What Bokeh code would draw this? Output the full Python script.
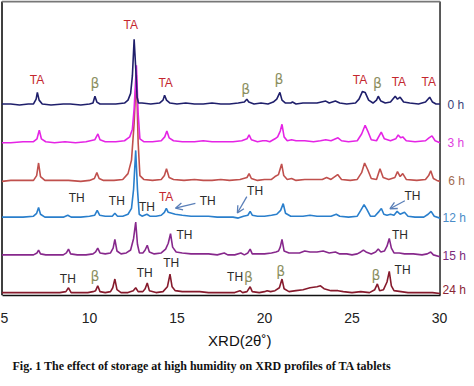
from bokeh.plotting import figure
from bokeh.models import Range1d, Arrow, OpenHead, FixedTicker, Title
from bokeh.embed import file_html
from bokeh.resources import INLINE
from bokeh.core.properties import value
import numpy as np

# ---------------- data (2theta, intensity above each trace's baseline) ----------------
x_0h = [5.0, 5.5, 6.0, 6.5, 6.8, 6.95, 7.02, 7.12, 7.3, 7.8, 8.5, 8.9, 9.5, 10.0, 10.2, 10.31, 10.42, 10.6, 11.0, 11.5,
        12.0, 12.2, 12.35, 12.45, 12.55, 12.65, 12.72, 12.8, 13.0, 13.5, 14.0, 14.2, 14.29, 14.4, 14.6, 15.0, 15.5, 16.0,
        16.5, 17.0, 17.5, 18.0, 18.5, 18.85, 18.99, 19.1, 19.4, 19.8, 20.2, 20.5, 20.7, 20.88, 21.0, 21.2, 21.5, 21.6,
        21.8, 22.2, 22.6, 23.0, 23.5, 23.7, 24.05, 24.3, 24.7, 25.2, 25.4, 25.6, 25.75, 25.95, 26.2, 26.4, 26.5, 26.65,
        26.9, 27.2, 27.47, 27.6, 27.75, 27.95, 28.3, 28.8, 29.2, 29.44, 29.6, 29.8, 30.03]
i_0h = [1, 1, 0, 1, 1, 6, 13, 5, 1, 0, 1, 1, 0, 1, 2, 9, 3, 1, 1, 1,
        2, 5, 12, 30, 68, 35, 8, 2, 2, 1, 2, 5, 10, 5, 2, 1, 2, 1,
        1, 2, 1, 1, 2, 3, 6, 3, 1, 2, 1, 3, 6, 13, 5, 2, 2, 3,
        1, 2, 2, 2, 4, 2, 4, 2, 1, 2, 6, 14, 13, 5, 2, 5, 9, 4,
        2, 3, 9, 6, 8, 3, 2, 1, 3, 8, 3, 1, 1]

x_3h = [5.0, 5.5, 6.2, 6.8, 7.0, 7.13, 7.25, 7.5, 8.0, 8.6, 9.2, 9.8, 10.3, 10.48, 10.6, 10.9, 11.5, 12.0, 12.3, 12.45,
        12.55, 12.68, 12.78, 12.88, 13.1, 13.6, 14.1, 14.3, 14.42, 14.55, 14.8, 15.3, 16.0, 16.5, 17.0, 17.6, 18.2, 18.7,
        19.0, 19.12, 19.25, 19.6, 19.9, 20.1, 20.3, 20.6, 20.75, 20.9, 21.0, 21.12, 21.3, 21.55, 21.8, 22.3, 22.8, 23.2,
        23.5, 23.8, 24.2, 24.4, 24.8, 25.3, 25.55, 25.75, 25.9, 26.1, 26.4, 26.67, 26.85, 27.2, 27.5, 27.64, 27.78, 27.9,
        28.1, 28.6, 29.2, 29.4, 29.57, 29.75, 30.03]
i_3h = [0, 0, 1, 1, 4, 13, 4, 1, 0, 1, 0, 1, 3, 9, 3, 1, 1, 2, 6, 14,
        35, 80, 30, 4, 1, 1, 2, 6, 12, 5, 2, 1, 1, 2, 1, 1, 1, 2,
        4, 8, 3, 1, 2, 2, 1, 4, 6, 12, 19, 6, 2, 3, 2, 2, 1, 2,
        3, 2, 5, 2, 1, 2, 9, 18, 12, 3, 2, 11, 4, 2, 4, 8, 5, 6,
        2, 1, 2, 5, 7, 2, 0]

x_6h = [5.0, 5.5, 6.2, 6.8, 6.98, 7.09, 7.2, 7.45, 8.0, 8.8, 9.5, 10.0, 10.28, 10.42, 10.55, 10.8, 11.4, 11.9, 12.2, 12.4,
        12.55, 12.68, 12.78, 12.88, 13.1, 13.6, 14.1, 14.28, 14.4, 14.55, 14.8, 15.4, 16.0, 16.5, 17.0, 17.5, 18.0, 18.6,
        19.0, 19.12, 19.25, 19.6, 20.0, 20.4, 20.6, 20.8, 20.98, 21.1, 21.3, 21.55, 21.8, 22.3, 22.9, 23.3, 23.55, 23.8,
        24.18, 24.4, 24.9, 25.3, 25.55, 25.72, 25.9, 26.1, 26.4, 26.6, 26.78, 27.1, 27.45, 27.6, 27.75, 27.9, 28.1, 28.7,
        29.2, 29.38, 29.5, 29.65, 29.85, 30.03]
i_6h = [0, 1, 1, 1, 6, 19, 5, 1, 1, 1, 0, 1, 3, 9, 3, 1, 1, 2, 8, 22,
        60, 110, 40, 6, 2, 1, 2, 6, 13, 4, 2, 1, 2, 1, 1, 2, 1, 2,
        4, 8, 3, 1, 2, 2, 5, 7, 18, 6, 2, 3, 1, 2, 2, 2, 4, 2,
        7, 2, 1, 2, 9, 19, 12, 3, 2, 13, 4, 2, 4, 10, 5, 8, 2, 1,
        2, 6, 11, 3, 1, 0]

x_12h = [5.0, 5.5, 6.2, 6.8, 6.98, 7.09, 7.2, 7.45, 8.0, 8.5, 8.76, 8.95, 9.5, 10.0, 10.3, 10.44, 10.58, 10.9, 11.3, 11.45,
         11.6, 11.9, 12.2, 12.4, 12.52, 12.64, 12.74, 12.84, 13.0, 13.28, 13.45, 13.8, 14.1, 14.28, 14.39, 14.5, 14.7, 14.9,
         15.3, 15.8, 16.3, 16.8, 17.3, 17.8, 18.2, 18.5, 18.8, 19.05, 19.18, 19.3, 19.6, 20.0, 20.4, 20.7, 20.92, 21.07,
         21.2, 21.5, 21.8, 22.2, 22.6, 23.0, 23.5, 23.8, 24.1, 24.3, 24.8, 25.3, 25.5, 25.69, 25.85, 26.05, 26.3, 26.55,
         26.68, 26.82, 27.0, 27.2, 27.4, 27.58, 27.75, 28.0, 28.2, 28.6, 29.1, 29.35, 29.52, 29.7, 30.03]
i_12h = [1, 1, 1, 2, 5, 11, 4, 1, 1, 1, 3, 1, 1, 2, 3, 8, 3, 2, 2, 5,
         2, 2, 4, 10, 30, 70, 30, 4, 2, 4, 2, 2, 3, 6, 10, 6, 5, 4,
         3, 2, 2, 2, 1, 1, 1, 0, 2, 3, 7, 3, 2, 2, 3, 4, 8, 15,
         5, 2, 2, 2, 3, 2, 2, 2, 4, 2, 1, 2, 8, 14, 9, 2, 2, 7,
         10, 4, 3, 4, 3, 7, 4, 6, 2, 1, 1, 4, 7, 2, 0]

x_15h = [5.0, 5.5, 6.2, 6.8, 7.0, 7.09, 7.2, 7.5, 8.0, 8.5, 8.68, 8.8, 8.92, 9.3, 9.8, 10.2, 10.35, 10.47, 10.6, 10.9,
         11.2, 11.35, 11.45, 11.57, 11.8, 12.1, 12.35, 12.52, 12.64, 12.74, 12.85, 13.05, 13.18, 13.3, 13.42, 13.7, 14.1,
         14.35, 14.5, 14.63, 14.75, 14.95, 15.3, 15.8, 16.3, 16.8, 17.3, 17.7, 17.9, 18.3, 18.65, 18.85, 19.05, 19.18,
         19.3, 19.6, 20.0, 20.4, 20.65, 20.8, 20.9, 21.0, 21.12, 21.4, 21.7, 22.0, 22.3, 22.6, 23.0, 23.35, 23.7, 24.05,
         24.3, 24.7, 25.0, 25.3, 25.5, 25.65, 25.8, 26.1, 26.35, 26.5, 26.65, 26.85, 27.0, 27.13, 27.25, 27.4, 27.7, 28.0,
         28.5, 29.0, 29.3, 29.5, 29.65, 30.03]
i_15h = [1, 1, 1, 1, 3, 6, 2, 1, 1, 1, 3, 7, 2, 1, 1, 2, 4, 8, 3, 2,
         3, 8, 17, 5, 2, 3, 6, 18, 35, 12, 3, 3, 6, 11, 4, 2, 3,
         7, 13, 23, 9, 4, 3, 2, 2, 2, 1, 3, 1, 1, 3, 1, 3, 7,
         2, 2, 2, 3, 4, 5, 9, 17, 5, 3, 3, 3, 5, 4, 4, 5, 3, 4,
         2, 2, 1, 2, 4, 6, 4, 2, 4, 7, 4, 5, 10, 18, 8, 3, 3, 2,
         2, 1, 2, 4, 1, -1]

x_24h = [5.0, 5.5, 6.2, 6.8, 7.2, 7.8, 8.3, 8.65, 8.8, 8.95, 9.4, 9.9, 10.2, 10.35, 10.47, 10.6, 10.9, 11.2, 11.33, 11.45,
         11.57, 11.8, 12.2, 12.5, 12.64, 12.78, 13.05, 13.18, 13.3, 13.42, 13.8, 14.2, 14.45, 14.6, 14.72, 14.9, 15.3,
         15.8, 16.3, 16.8, 17.3, 17.8, 18.3, 18.6, 18.75, 19.0, 19.18, 19.3, 19.7, 20.0, 20.15, 20.35, 20.6, 20.85, 21.0,
         21.12, 21.4, 21.8, 22.2, 22.6, 23.0, 23.2, 23.4, 23.8, 24.2, 24.5, 25.0, 25.5, 26.0, 26.3, 26.45, 26.58, 26.8,
         27.0, 27.13, 27.25, 27.4, 27.8, 28.2, 28.8, 29.3, 29.6, 30.03]
i_24h = [1, 1, 1, 1, 1, 1, 1, 2, 6, 1, 1, 1, 2, 3, 8, 2, 1, 2, 6, 15,
         4, 1, 1, 3, 6, 2, 2, 5, 11, 3, 1, 2, 7, 20, 7, 3, 2,
         2, 2, 1, 1, 1, 1, 3, 1, 2, 7, 2, 1, 2, 3, 2, 3, 6, 15,
         5, 2, 3, 4, 6, 7, 8, 5, 3, 3, 2, 1, 2, 1, 4, 10, 3, 4,
         12, 23, 8, 3, 2, 1, 1, 1, 1, 0]

series_names = ["0 h", "3 h", "6 h", "12 h", "15 h", "24 h"]
series_x = [x_0h, x_3h, x_6h, x_12h, x_15h, x_24h]
series_i = [i_0h, i_3h, i_6h, i_12h, i_15h, i_24h]
stack_offsets = [197, 158, 118, 80, 41, 2]
line_colors = ["#1f1f6b", "#e524e5", "#c0504d", "#2a7fcc", "#87288c", "#861a2c"]
label_colors = ["#3a3f78", "#e040e0", "#a06a50", "#4a8cc8", "#7b2a7b", "#8b2535"]
label_x = [30.46, 30.46, 30.5, 30.17, 30.17, 30.17]
label_y = [197, 158, 118, 80, 41, 6]

xticks = [5, 10, 15, 20, 25, 30]
x_axis_span = (5.0, 30.03)
frame_top = 304

# peak annotations
ta_x = [7.0, 12.36, 14.35, 25.46, 27.68, 29.39, 14.38]
ta_y = [223, 280, 220, 223, 221, 221, 102]
beta_x = [10.31, 18.93, 20.82, 26.45, 10.31, 19.08, 20.92, 26.37]
beta_y = [220, 214, 224, 220, 19.7, 18.7, 25.7, 21.3]
th_x = [9.27, 11.56, 13.28, 16.75, 19.46, 28.45, 15.43, 27.74, 8.76, 13.15, 14.67, 18.32, 27.89]
th_y = [101.3, 98, 91.3, 98, 108, 103, 62.3, 62.3, 17, 23, 33.7, 18.7, 26.3]
arrows = [((16.05, 95.3), (14.91, 90.3)), ((18.99, 102.3), (18.45, 85.3)), ((28.02, 98), (27.17, 89.7))]

caption = "Fig. 1  The effect of storage at high humidity on XRD profiles of TA tablets"

# ---------------- figure ----------------
p = figure(width=466, height=378, output_backend="svg", toolbar_location=None,
           x_range=Range1d(4.914, 31.543), y_range=Range1d(0, 305),
           y_axis_location=None,
           min_border_left=0, min_border_right=0, min_border_top=0, min_border_bottom=73)
p.xgrid.visible = False
p.ygrid.visible = False
p.outline_line_color = None
p.background_fill_color = "white"
p.border_fill_color = "white"

ax = p.xaxis[0]
ax.ticker = FixedTicker(ticks=xticks)
ax.bounds = x_axis_span
ax.major_tick_line_color = None
ax.minor_tick_line_color = None
ax.axis_line_color = "#111111"
ax.axis_line_width = 1.5
ax.major_label_text_font = "Liberation Sans"
ax.major_label_text_font_size = "14px"
ax.major_label_text_color = "#222222"
ax.major_label_standoff = 11
ax.axis_label = "\u00a0" * 3 + "XRD(2θ˚)"
ax.axis_label_text_font = "Liberation Sans"
ax.axis_label_text_font_style = "normal"
ax.axis_label_text_font_size = "15px"
ax.axis_label_text_color = "#111111"
ax.axis_label_standoff = 6

p.add_layout(Title(text=caption, align="left", offset=12, standoff=11,
                   text_font="Liberation Serif", text_font_style="bold",
                   text_font_size="12px", text_color="#111111"), "below")

# frame box (left, right, top)
x0s, x1s = x_axis_span
p.segment(x0=[x0s, x1s, x0s], y0=[0, 0, frame_top], x1=[x0s, x1s, x1s], y1=[frame_top, frame_top, frame_top],
          line_color=["#111111", "#333333", "#777777"], line_width=[1.6, 1.6, 2.0])

for k in range(len(series_x) - 1, -1, -1):
    xs = np.array(series_x[k], dtype=float)
    ys = np.array(series_i[k], dtype=float) + stack_offsets[k]
    p.line(xs, ys, line_color=line_colors[k], line_width=1.6)

p.text(x=label_x, y=label_y, text=series_names, text_color=label_colors,
       text_font=value("Liberation Sans"), text_font_size="12px",
       text_align="left", text_baseline="middle")

p.text(x=ta_x, y=ta_y, text=["TA"] * len(ta_x), text_color="#c4262e",
       text_font=value("Liberation Sans"), text_font_size="12px",
       text_align="center", text_baseline="middle")
p.text(x=beta_x, y=beta_y, text=["β"] * len(beta_x), text_color="#8c8f62",
       text_font=value("DejaVu Sans"), text_font_size="14px",
       text_align="center", text_baseline="middle")
p.text(x=th_x, y=th_y, text=["TH"] * len(th_x), text_color="#2b2b2b",
       text_font=value("Liberation Sans"), text_font_size="12px",
       text_align="center", text_baseline="middle")

for (xa, ya), (xb, yb) in arrows:
    p.add_layout(Arrow(x_start=xa, y_start=ya, x_end=xb, y_end=yb,
                       line_color="#5a7fb8", line_width=1.3,
                       end=OpenHead(size=7, line_color="#5a7fb8", line_width=1.3)))

open("out.html", "w").write(file_html(p, INLINE))
